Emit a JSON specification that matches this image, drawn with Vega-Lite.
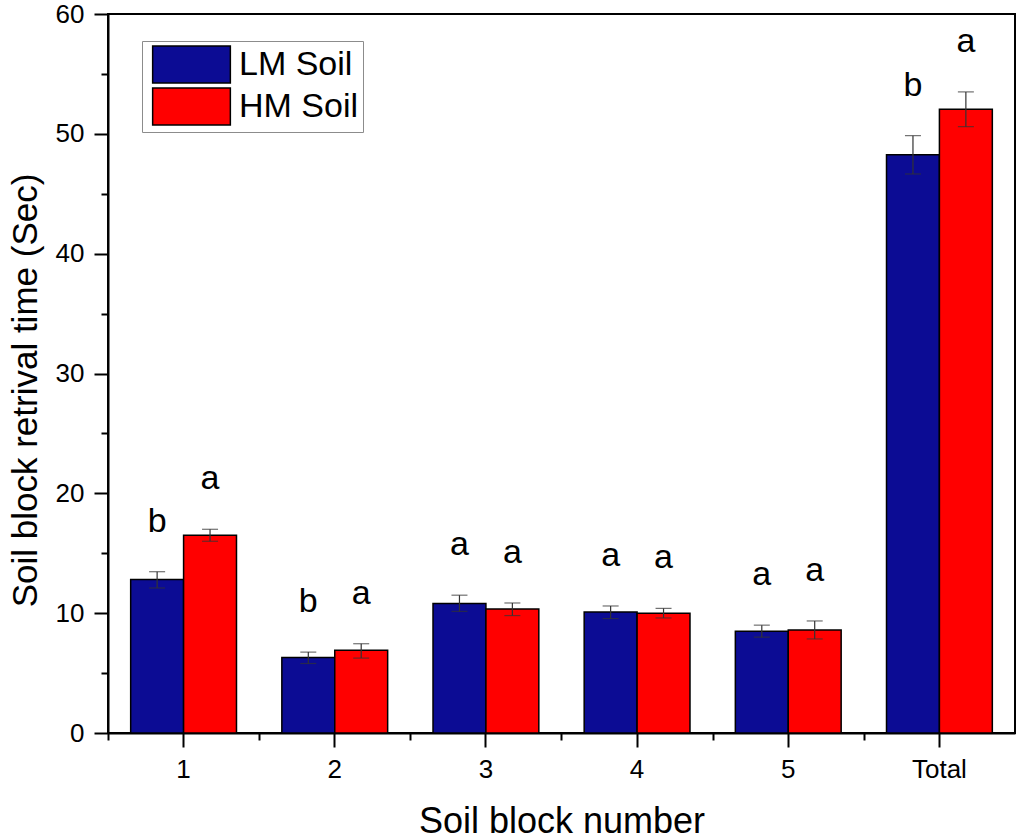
{
  "$schema": "https://vega.github.io/schema/vega-lite/v6.json",
  "width": 907,
  "height": 719,
  "autosize": {"type": "none"},
  "padding": {"left": 108, "top": 14, "right": 5, "bottom": 106},
  "background": "white",
  "config": {
    "font": "Liberation Sans",
    "view": {"stroke": "black", "strokeWidth": 2},
    "axis": {
      "domainColor": "black",
      "domainWidth": 2,
      "tickColor": "black",
      "tickWidth": 2,
      "labelColor": "black",
      "titleColor": "black",
      "labelFont": "Liberation Sans",
      "titleFont": "Liberation Sans",
      "titleFontWeight": "normal",
      "grid": false
    }
  },
  "data": {
    "values": [
      {"block": "1", "soil": "LM Soil", "value": 12.8, "lo": 12.1, "hi": 13.46, "letter": "b"},
      {"block": "1", "soil": "HM Soil", "value": 16.5, "lo": 16.0, "hi": 17.0, "letter": "a"},
      {"block": "2", "soil": "LM Soil", "value": 6.3, "lo": 5.8, "hi": 6.75, "letter": "b"},
      {"block": "2", "soil": "HM Soil", "value": 6.9, "lo": 6.25, "hi": 7.45, "letter": "a"},
      {"block": "3", "soil": "LM Soil", "value": 10.8, "lo": 10.15, "hi": 11.5, "letter": "a"},
      {"block": "3", "soil": "HM Soil", "value": 10.35, "lo": 9.8, "hi": 10.85, "letter": "a"},
      {"block": "4", "soil": "LM Soil", "value": 10.1, "lo": 9.55, "hi": 10.6, "letter": "a"},
      {"block": "4", "soil": "HM Soil", "value": 10.0, "lo": 9.6, "hi": 10.4, "letter": "a"},
      {"block": "5", "soil": "LM Soil", "value": 8.5, "lo": 8.0, "hi": 9.0, "letter": "a"},
      {"block": "5", "soil": "HM Soil", "value": 8.6, "lo": 7.85, "hi": 9.35, "letter": "a"},
      {"block": "Total", "soil": "LM Soil", "value": 48.25, "lo": 46.65, "hi": 49.85, "letter": "b"},
      {"block": "Total", "soil": "HM Soil", "value": 52.05, "lo": 50.6, "hi": 53.5, "letter": "a"}
    ]
  },
  "resolve": {"axis": {"x": "independent"}},
  "layer": [
    {
      "mark": {"type": "bar", "stroke": "black", "strokeWidth": 1.5, "opacity": 1},
      "encoding": {
        "x": {
          "field": "block",
          "type": "nominal",
          "sort": ["1", "2", "3", "4", "5", "Total"],
          "scale": {"paddingInner": 0.3, "paddingOuter": 0.15},
          "axis": {
            "orient": "bottom",
            "title": "Soil block number",
            "titleFontSize": 36,
            "titlePadding": 22,
            "labelFontSize": 26,
            "labelAngle": 0,
            "labelPadding": 9,
            "tickSize": 14,
            "domain": true
          }
        },
        "xOffset": {
          "field": "soil",
          "type": "nominal",
          "sort": ["LM Soil", "HM Soil"],
          "scale": {"paddingInner": 0, "paddingOuter": 0}
        },
        "y": {
          "field": "value",
          "type": "quantitative",
          "scale": {"domain": [0, 60], "nice": false, "zero": true},
          "axis": {
            "title": "Soil block retrival time (Sec)",
            "titleFontSize": 35,
            "titlePadding": 12,
            "titleY": 376,
            "labelFontSize": 26,
            "labelPadding": 10,
            "values": [0, 5, 10, 15, 20, 25, 30, 35, 40, 45, 50, 55, 60],
            "labelExpr": "datum.value % 10 === 0 ? datum.label : ''",
            "tickSize": {"condition": {"test": "datum.value % 10 !== 0", "value": 7}, "value": 14}
          }
        },
        "fill": {
          "field": "soil",
          "type": "nominal",
          "scale": {"domain": ["LM Soil", "HM Soil"], "range": ["#0c0c94", "#ff0000"]},
          "legend": {
            "orient": "none",
            "legendX": 34,
            "legendY": 27,
            "title": null,
            "labelFontSize": 34,
            "labelFont": "Liberation Sans",
            "labelColor": "black",
            "labelOffset": 28,
            "symbolType": "M-2.1,-1L2.1,-1L2.1,1L-2.1,1Z",
            "symbolSize": 1369,
            "symbolOffset": 26,
            "symbolStrokeColor": "black",
            "symbolStrokeWidth": 1.5,
            "symbolOpacity": 1,
            "rowPadding": -1,
            "padding": 4,
            "strokeColor": "#8c8c8c",
            "fillColor": "white"
          }
        }
      }
    },
    {
      "mark": {"type": "rule", "color": "#333333", "strokeWidth": 1.2},
      "encoding": {
        "x": {
          "field": "block",
          "type": "nominal",
          "sort": ["1", "2", "3", "4", "5", "Total"],
          "axis": {
            "orient": "bottom",
            "title": null,
            "labels": false,
            "domain": false,
            "tickSize": 7,
            "tickOffset": -75.6
          }
        },
        "xOffset": {"field": "soil", "type": "nominal", "sort": ["LM Soil", "HM Soil"]},
        "y": {"field": "lo", "type": "quantitative"},
        "y2": {"field": "hi"}
      }
    },
    {
      "mark": {"type": "tick", "orient": "horizontal", "color": "#333333", "thickness": 1.2, "size": 16},
      "encoding": {
        "x": {"field": "block", "type": "nominal", "sort": ["1", "2", "3", "4", "5", "Total"], "axis": null},
        "xOffset": {"field": "soil", "type": "nominal", "sort": ["LM Soil", "HM Soil"]},
        "y": {"field": "lo", "type": "quantitative"}
      }
    },
    {
      "mark": {"type": "tick", "orient": "horizontal", "color": "#333333", "thickness": 1.2, "size": 16},
      "encoding": {
        "x": {"field": "block", "type": "nominal", "sort": ["1", "2", "3", "4", "5", "Total"], "axis": null},
        "xOffset": {"field": "soil", "type": "nominal", "sort": ["LM Soil", "HM Soil"]},
        "y": {"field": "hi", "type": "quantitative"}
      }
    },
    {
      "mark": {"type": "text", "fontSize": 34, "font": "Liberation Sans", "color": "black", "baseline": "middle", "align": "center", "dy": -50},
      "encoding": {
        "x": {"field": "block", "type": "nominal", "sort": ["1", "2", "3", "4", "5", "Total"], "axis": null},
        "xOffset": {"field": "soil", "type": "nominal", "sort": ["LM Soil", "HM Soil"]},
        "y": {"field": "hi", "type": "quantitative"},
        "text": {"field": "letter"}
      }
    }
  ]
}
